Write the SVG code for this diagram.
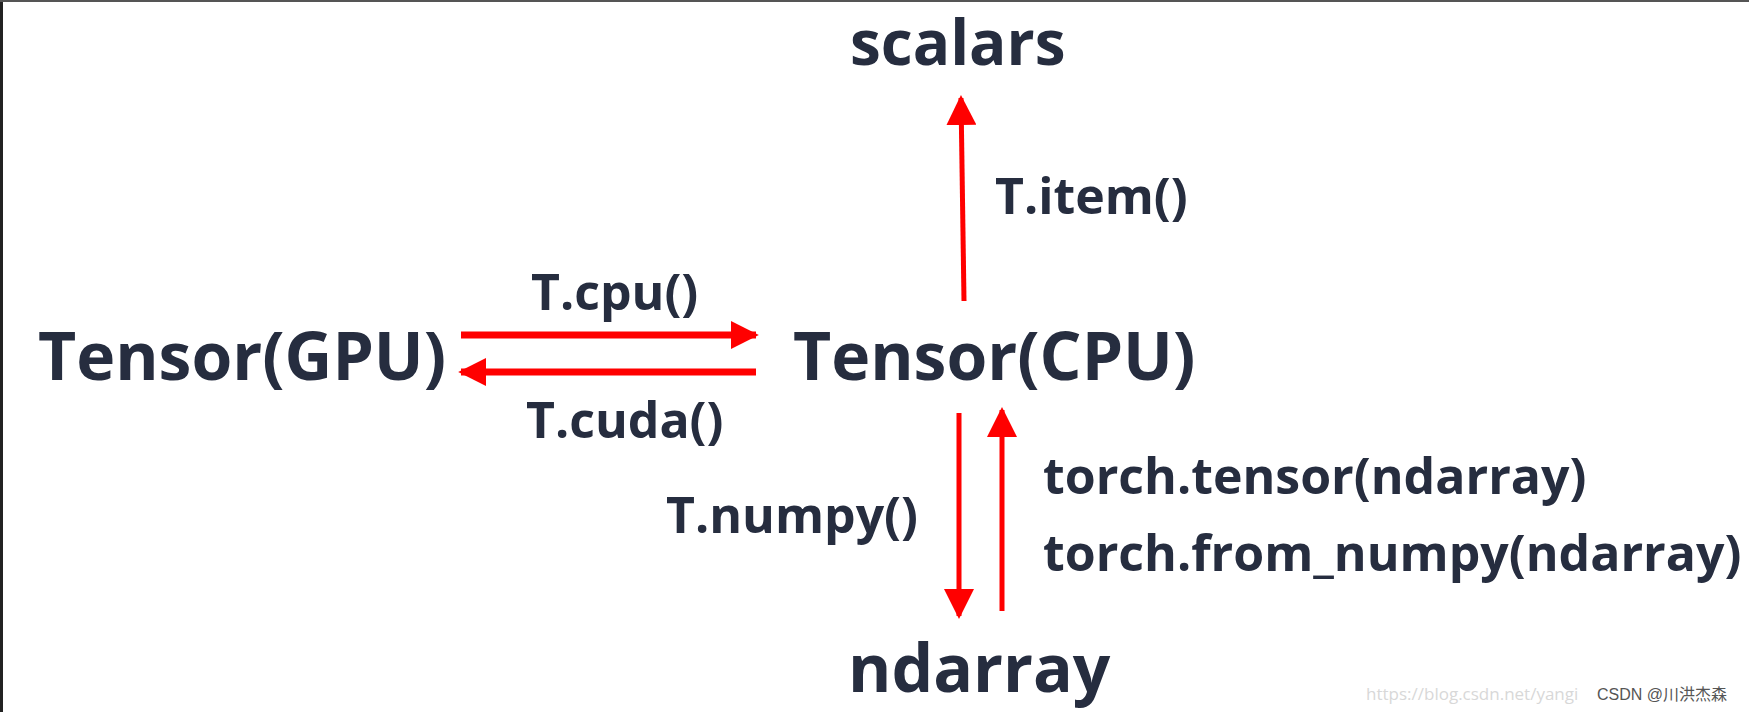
<svg xmlns="http://www.w3.org/2000/svg" width="1749" height="712" viewBox="0 0 1749 712">
<style>
text{font-family:"Open Sans","Noto Sans",sans-serif;font-weight:bold;fill:#262d3f}
.big{font-size:66px}
.lbl{font-size:50px}
.arr{stroke:#ff0000;fill:none}
</style>
<defs>
<marker id="ah" viewBox="0 0 10 10" refX="9" refY="5" markerWidth="4" markerHeight="4" orient="auto" markerUnits="strokeWidth"><path d="M0,0L10,5L0,10z" fill="#ff0000"/></marker>
<marker id="ah2" viewBox="0 0 10 10" refX="9" refY="5" markerWidth="6" markerHeight="6" orient="auto" markerUnits="strokeWidth"><path d="M0,0L10,5L0,10z" fill="#ff0000"/></marker>
</defs>
<rect width="1749" height="712" fill="#fff"/>
<rect x="0" y="0" width="3" height="712" fill="#222"/>
<rect x="0" y="0" width="1749" height="2" fill="#555"/>
<g id="scalars"><text x="850" y="65" style="font-size:62px">scalars</text></g>
<g id="tensor-gpu"><text class="big" x="38" y="380">Tensor(GPU)</text></g>
<g id="tensor-cpu"><text class="big" x="793" y="380">Tensor(CPU)</text></g>
<g id="ndarray"><text class="big" x="848" y="692">ndarray</text></g>
<g id="connectors">
<line class="arr" x1="964" y1="301" x2="961" y2="98" stroke-width="5" marker-end="url(#ah2)"/>
<line class="arr" x1="461" y1="335" x2="756" y2="335" stroke-width="7" marker-end="url(#ah)"/>
<line class="arr" x1="756" y1="372" x2="461" y2="372" stroke-width="7" marker-end="url(#ah)"/>
<line class="arr" x1="959" y1="413" x2="959" y2="616" stroke-width="5" marker-end="url(#ah2)"/>
<line class="arr" x1="1002" y1="611" x2="1002" y2="410" stroke-width="5" marker-end="url(#ah2)"/>
<text class="lbl" x="995" y="214">T.item()</text>
<text class="lbl" x="531" y="310">T.cpu()</text>
<text class="lbl" x="526" y="438">T.cuda()</text>
<text class="lbl" x="666" y="533">T.numpy()</text>
<text class="lbl" x="1043" y="494">torch.tensor(ndarray)</text>
<text class="lbl" x="1043" y="571">torch.from_numpy(ndarray)</text>
</g>
<text x="1366" y="700" style="font-size:17px;font-weight:normal;fill:#d8d8d8">https://blog.csdn.net/yangi</text>
<text x="1597" y="700" style="font-size:16px;font-weight:normal;fill:#555;font-family:'Liberation Sans','Noto Sans CJK SC',sans-serif">CSDN @川洪杰森</text>
</svg>
